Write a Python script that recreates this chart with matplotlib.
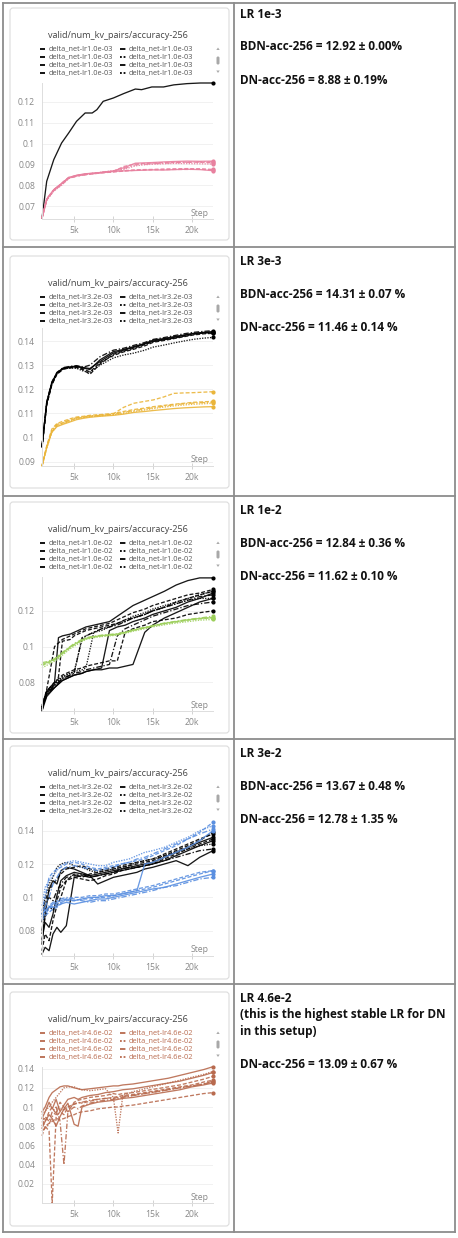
import matplotlib
matplotlib.use("Agg")
import matplotlib.pyplot as plt
from matplotlib.patches import FancyBboxPatch, Polygon
from matplotlib.ticker import FuncFormatter, FixedLocator

plt.rcParams['font.family'] = ['Open Sans', 'DejaVu Sans']

# ---------------- data ----------------
# panel 1: LR 1e-3
steps_1 = [900, 1500, 2400, 3400, 4300, 5300, 6400, 7300, 7900, 8700, 10000,
           11300, 12800, 13600, 14900, 16400, 17700, 19400, 21100, 22700]
black_1 = [
    [0.0642, 0.0819, 0.0923, 0.1003, 0.1051, 0.1107, 0.1147, 0.1147, 0.1163, 0.1203,
     0.1219, 0.1240, 0.1262, 0.1259, 0.1272, 0.1272, 0.1282, 0.1288, 0.1291, 0.1291],
]
pink_1 = [
    [0.0642, 0.0730, 0.0775, 0.0810, 0.0838, 0.0846, 0.0852, 0.0856, 0.0858, 0.0862,
     0.0866, 0.0890, 0.0902, 0.0904, 0.0906, 0.0909, 0.0910, 0.0911, 0.0910, 0.0908],
    [0.0645, 0.0735, 0.0780, 0.0805, 0.0835, 0.0843, 0.0850, 0.0855, 0.0857, 0.0861,
     0.0868, 0.0880, 0.0898, 0.0900, 0.0903, 0.0906, 0.0908, 0.0910, 0.0912, 0.0912],
    [0.0640, 0.0728, 0.0772, 0.0800, 0.0832, 0.0845, 0.0853, 0.0857, 0.0860, 0.0864,
     0.0870, 0.0876, 0.0893, 0.0897, 0.0901, 0.0903, 0.0905, 0.0904, 0.0903, 0.0902],
    [0.0643, 0.0732, 0.0778, 0.0808, 0.0836, 0.0848, 0.0855, 0.0858, 0.0859, 0.0863,
     0.0869, 0.0884, 0.0906, 0.0907, 0.0909, 0.0912, 0.0914, 0.0916, 0.0915, 0.0916],
    [0.0641, 0.0729, 0.0776, 0.0806, 0.0834, 0.0844, 0.0851, 0.0855, 0.0857, 0.0860,
     0.0864, 0.0868, 0.0872, 0.0873, 0.0874, 0.0875, 0.0876, 0.0876, 0.0877, 0.0873],
    [0.0644, 0.0733, 0.0779, 0.0809, 0.0837, 0.0847, 0.0854, 0.0857, 0.0858, 0.0862,
     0.0866, 0.0869, 0.0871, 0.0872, 0.0874, 0.0873, 0.0875, 0.0877, 0.0875, 0.0870],
    [0.0642, 0.0731, 0.0774, 0.0803, 0.0833, 0.0846, 0.0852, 0.0856, 0.0859, 0.0861,
     0.0865, 0.0870, 0.0874, 0.0875, 0.0876, 0.0878, 0.0879, 0.0880, 0.0879, 0.0876],
]

# panel 2: LR 3e-3
steps_2 = [900, 1500, 2150, 2800, 3600, 4500, 5300, 6200, 7000, 8300, 10000,
           11300, 12600, 14000, 15100, 16400, 17700, 19000, 20200, 21500, 22700]
black_2 = [
    [0.0962, 0.1142, 0.1225, 0.1266, 0.1287, 0.1291, 0.1294, 0.1288, 0.1282, 0.1322, 0.1356,
     0.1365, 0.1377, 0.1390, 0.1404, 0.1410, 0.1418, 0.1425, 0.1432, 0.1436, 0.1439],
    [0.0958, 0.1135, 0.1218, 0.1262, 0.1283, 0.1289, 0.1290, 0.1280, 0.1262, 0.1305, 0.1345,
     0.1358, 0.1370, 0.1385, 0.1398, 0.1405, 0.1412, 0.1420, 0.1428, 0.1433, 0.1435],
    [0.0965, 0.1148, 0.1230, 0.1270, 0.1290, 0.1295, 0.1298, 0.1292, 0.1300, 0.1335, 0.1362,
     0.1370, 0.1382, 0.1394, 0.1407, 0.1414, 0.1422, 0.1430, 0.1436, 0.1440, 0.1443],
    [0.0960, 0.1140, 0.1222, 0.1264, 0.1285, 0.1288, 0.1287, 0.1275, 0.1270, 0.1300, 0.1330,
     0.1342, 0.1350, 0.1362, 0.1375, 0.1383, 0.1392, 0.1400, 0.1407, 0.1412, 0.1415],
    [0.0963, 0.1145, 0.1228, 0.1268, 0.1288, 0.1293, 0.1296, 0.1290, 0.1286, 0.1315, 0.1350,
     0.1362, 0.1374, 0.1388, 0.1400, 0.1407, 0.1415, 0.1423, 0.1430, 0.1434, 0.1437],
    [0.0961, 0.1138, 0.1220, 0.1265, 0.1286, 0.1290, 0.1292, 0.1284, 0.1272, 0.1310, 0.1340,
     0.1355, 0.1366, 0.1380, 0.1395, 0.1402, 0.1410, 0.1418, 0.1425, 0.1430, 0.1432],
]
yellow_2 = [
    [0.0882, 0.0962, 0.1025, 0.1050, 0.1062, 0.1072, 0.1080, 0.1084, 0.1088, 0.1092, 0.1098,
     0.1125, 0.1142, 0.1150, 0.1156, 0.1168, 0.1183, 0.1185, 0.1186, 0.1188, 0.1190],
    [0.0882, 0.0960, 0.1030, 0.1055, 0.1060, 0.1075, 0.1082, 0.1086, 0.1090, 0.1092, 0.1096,
     0.1104, 0.1112, 0.1118, 0.1124, 0.1130, 0.1136, 0.1140, 0.1143, 0.1145, 0.1147],
    [0.0882, 0.0955, 0.1020, 0.1048, 0.1058, 0.1068, 0.1078, 0.1083, 0.1086, 0.1090, 0.1094,
     0.1100, 0.1108, 0.1114, 0.1120, 0.1126, 0.1131, 0.1135, 0.1138, 0.1140, 0.1142],
    [0.0882, 0.0958, 0.1022, 0.1045, 0.1055, 0.1065, 0.1074, 0.1080, 0.1084, 0.1088, 0.1092,
     0.1097, 0.1104, 0.1108, 0.1112, 0.1116, 0.1120, 0.1123, 0.1125, 0.1127, 0.1128],
    [0.0882, 0.0965, 0.1035, 0.1058, 0.1068, 0.1078, 0.1085, 0.1088, 0.1092, 0.1095, 0.1100,
     0.1108, 0.1116, 0.1122, 0.1128, 0.1133, 0.1138, 0.1142, 0.1146, 0.1148, 0.1150],
]

# panel 3: LR 1e-2
steps_3 = [900, 1500, 2500, 3000, 3500, 4500, 5000, 6000, 6500, 7500, 8500,
           9500, 10500, 11500, 12500, 14000, 15000, 16500, 18000, 19500, 21000, 22700]
black_3 = [
    [0.066, 0.075, 0.080, 0.105, 0.106, 0.107, 0.108, 0.110, 0.111, 0.112, 0.113,
     0.114, 0.117, 0.120, 0.123, 0.126, 0.128, 0.131, 0.1345, 0.137, 0.1385, 0.1385],
    [0.065, 0.074, 0.079, 0.083, 0.103, 0.104, 0.106, 0.108, 0.109, 0.110, 0.111,
     0.112, 0.113, 0.115, 0.116, 0.118, 0.120, 0.122, 0.125, 0.127, 0.129, 0.131],
    [0.064, 0.073, 0.078, 0.080, 0.082, 0.084, 0.085, 0.105, 0.106, 0.108, 0.110,
     0.111, 0.112, 0.114, 0.116, 0.118, 0.120, 0.122, 0.124, 0.126, 0.128, 0.129],
    [0.066, 0.074, 0.079, 0.081, 0.083, 0.085, 0.086, 0.087, 0.088, 0.108, 0.110,
     0.111, 0.113, 0.114, 0.116, 0.118, 0.120, 0.122, 0.124, 0.126, 0.127, 0.127],
    [0.065, 0.073, 0.077, 0.079, 0.081, 0.083, 0.084, 0.085, 0.086, 0.087, 0.088,
     0.109, 0.111, 0.112, 0.114, 0.116, 0.118, 0.120, 0.122, 0.125, 0.127, 0.130],
    [0.067, 0.075, 0.080, 0.082, 0.084, 0.086, 0.087, 0.088, 0.089, 0.090, 0.091,
     0.092, 0.092, 0.108, 0.110, 0.112, 0.114, 0.115, 0.116, 0.118, 0.119, 0.120],
    [0.064, 0.072, 0.077, 0.079, 0.081, 0.083, 0.084, 0.085, 0.086, 0.087, 0.087,
     0.088, 0.088, 0.089, 0.090, 0.108, 0.112, 0.116, 0.119, 0.122, 0.125, 0.127],
    [0.066, 0.076, 0.100, 0.102, 0.104, 0.106, 0.107, 0.109, 0.110, 0.111, 0.112,
     0.113, 0.115, 0.117, 0.119, 0.121, 0.123, 0.125, 0.127, 0.129, 0.130, 0.132],
    [0.065, 0.074, 0.078, 0.080, 0.082, 0.084, 0.085, 0.086, 0.087, 0.088, 0.089,
     0.090, 0.106, 0.110, 0.112, 0.115, 0.117, 0.119, 0.121, 0.123, 0.124, 0.125],
    [0.066, 0.075, 0.079, 0.081, 0.083, 0.085, 0.086, 0.104, 0.106, 0.108, 0.109,
     0.111, 0.113, 0.115, 0.117, 0.119, 0.121, 0.123, 0.125, 0.127, 0.129, 0.131],
]
green_3 = [
    [0.0894, 0.0905, 0.0925, 0.0940, 0.0960, 0.0995, 0.1010, 0.1035, 0.1045, 0.1055, 0.1060,
     0.1063, 0.1068, 0.1078, 0.1090, 0.1105, 0.1115, 0.1128, 0.1138, 0.1148, 0.1155, 0.1163],
    [0.0910, 0.0915, 0.0932, 0.0950, 0.0968, 0.1000, 0.1018, 0.1040, 0.1050, 0.1058, 0.1064,
     0.1068, 0.1072, 0.1082, 0.1094, 0.1108, 0.1118, 0.1132, 0.1142, 0.1152, 0.1160, 0.1170],
    [0.0880, 0.0895, 0.0918, 0.0932, 0.0952, 0.0988, 0.1002, 0.1028, 0.1040, 0.1050, 0.1056,
     0.1060, 0.1064, 0.1074, 0.1086, 0.1100, 0.1110, 0.1122, 0.1132, 0.1140, 0.1148, 0.1152],
    [0.0900, 0.0910, 0.0928, 0.0945, 0.0964, 0.0998, 0.1012, 0.1036, 0.1046, 0.1054, 0.1062,
     0.1066, 0.1070, 0.1080, 0.1092, 0.1106, 0.1116, 0.1130, 0.1140, 0.1150, 0.1158, 0.1162],
]

# panel 4: LR 3e-2
steps_4 = [900, 1300, 1800, 2300, 2800, 3300, 4000, 5000, 6000, 7000, 8000, 9000,
           10000, 11000, 12000, 13000, 14000, 15000, 16500, 18000, 19500, 21000, 22700]
black_4 = [
    [0.072, 0.090, 0.105, 0.110, 0.108, 0.116, 0.118, 0.117, 0.115, 0.113, 0.114, 0.115,
     0.116, 0.117, 0.118, 0.119, 0.120, 0.121, 0.124, 0.127, 0.130, 0.133, 0.136],
    [0.068, 0.078, 0.074, 0.086, 0.095, 0.100, 0.110, 0.114, 0.112, 0.114, 0.115, 0.116,
     0.117, 0.118, 0.119, 0.120, 0.121, 0.122, 0.125, 0.128, 0.131, 0.134, 0.139],
    [0.080, 0.095, 0.100, 0.098, 0.104, 0.108, 0.112, 0.113, 0.114, 0.112, 0.113, 0.114,
     0.115, 0.117, 0.118, 0.118, 0.119, 0.120, 0.122, 0.124, 0.126, 0.128, 0.129],
    [0.090, 0.100, 0.108, 0.112, 0.118, 0.120, 0.121, 0.119, 0.118, 0.116, 0.115, 0.116,
     0.117, 0.118, 0.119, 0.121, 0.122, 0.123, 0.125, 0.127, 0.129, 0.131, 0.132],
    [0.066, 0.070, 0.068, 0.078, 0.082, 0.079, 0.083, 0.112, 0.113, 0.112, 0.113, 0.114,
     0.115, 0.116, 0.117, 0.118, 0.119, 0.120, 0.122, 0.125, 0.128, 0.131, 0.134],
    [0.085, 0.098, 0.104, 0.108, 0.111, 0.114, 0.117, 0.118, 0.119, 0.117, 0.116, 0.117,
     0.118, 0.119, 0.120, 0.121, 0.122, 0.123, 0.126, 0.129, 0.132, 0.135, 0.138],
    [0.075, 0.085, 0.082, 0.090, 0.101, 0.110, 0.113, 0.115, 0.114, 0.113, 0.108, 0.110,
     0.112, 0.113, 0.114, 0.115, 0.117, 0.118, 0.120, 0.122, 0.119, 0.124, 0.128],
    [0.078, 0.088, 0.095, 0.092, 0.098, 0.106, 0.110, 0.112, 0.111, 0.110, 0.111, 0.113,
     0.114, 0.116, 0.117, 0.118, 0.119, 0.120, 0.123, 0.126, 0.129, 0.132, 0.135],
]
blue_4 = [
    [0.092, 0.100, 0.112, 0.115, 0.117, 0.118, 0.120, 0.121, 0.120, 0.118, 0.117, 0.118,
     0.119, 0.120, 0.121, 0.122, 0.123, 0.125, 0.128, 0.131, 0.135, 0.139, 0.145],
    [0.088, 0.094, 0.100, 0.108, 0.112, 0.116, 0.118, 0.119, 0.118, 0.117, 0.116, 0.117,
     0.118, 0.120, 0.121, 0.123, 0.124, 0.126, 0.129, 0.132, 0.135, 0.138, 0.141],
    [0.095, 0.106, 0.110, 0.113, 0.116, 0.119, 0.121, 0.122, 0.121, 0.120, 0.119, 0.119,
     0.121, 0.122, 0.123, 0.125, 0.127, 0.128, 0.130, 0.133, 0.136, 0.140, 0.143],
    [0.090, 0.092, 0.094, 0.096, 0.097, 0.098, 0.099, 0.098, 0.099, 0.100, 0.100, 0.101,
     0.101, 0.102, 0.103, 0.104, 0.120, 0.121, 0.124, 0.127, 0.130, 0.134, 0.140],
    [0.088, 0.090, 0.093, 0.095, 0.096, 0.097, 0.098, 0.098, 0.099, 0.099, 0.100, 0.100,
     0.101, 0.102, 0.103, 0.104, 0.105, 0.106, 0.108, 0.110, 0.112, 0.114, 0.116],
    [0.090, 0.092, 0.094, 0.094, 0.095, 0.096, 0.097, 0.096, 0.097, 0.098, 0.099, 0.099,
     0.100, 0.101, 0.102, 0.103, 0.104, 0.105, 0.106, 0.108, 0.110, 0.112, 0.114],
    [0.086, 0.089, 0.091, 0.093, 0.094, 0.096, 0.099, 0.100, 0.100, 0.101, 0.101, 0.102,
     0.102, 0.103, 0.104, 0.105, 0.106, 0.107, 0.109, 0.111, 0.113, 0.115, 0.116],
    [0.092, 0.094, 0.095, 0.097, 0.098, 0.099, 0.100, 0.099, 0.098, 0.097, 0.098, 0.098,
     0.099, 0.100, 0.101, 0.102, 0.103, 0.104, 0.106, 0.107, 0.109, 0.111, 0.112],
]

# panel 5: LR 4.6e-2 (DN only)
steps_5 = [900, 1300, 1800, 2200, 2700, 3200, 3700, 4200, 5000, 5500, 6000, 7000, 8000,
           9000, 10000, 10600, 11200, 12500, 14000, 15500, 17000, 18500, 20000, 21500, 22700]
brown_5 = [
    [0.088, 0.095, 0.105, 0.098, 0.108, 0.095, 0.102, 0.108, 0.110, 0.108, 0.110, 0.112, 0.113,
     0.115, 0.116, 0.117, 0.118, 0.119, 0.121, 0.123, 0.125, 0.127, 0.130, 0.133, 0.136],
    [0.085, 0.080, 0.075, 0.000, 0.090, 0.095, 0.092, 0.100, 0.103, 0.105, 0.104, 0.106, 0.108,
     0.109, 0.110, 0.111, 0.112, 0.113, 0.115, 0.117, 0.119, 0.121, 0.123, 0.126, 0.128],
    [0.080, 0.090, 0.085, 0.095, 0.100, 0.085, 0.040, 0.095, 0.100, 0.098, 0.101, 0.104, 0.106,
     0.107, 0.108, 0.109, 0.110, 0.112, 0.114, 0.116, 0.118, 0.120, 0.122, 0.124, 0.126],
    [0.092, 0.096, 0.100, 0.105, 0.110, 0.115, 0.120, 0.121, 0.121, 0.119, 0.118, 0.117, 0.118,
     0.119, 0.110, 0.073, 0.112, 0.116, 0.119, 0.122, 0.125, 0.128, 0.131, 0.134, 0.137],
    [0.095, 0.100, 0.110, 0.115, 0.118, 0.121, 0.122, 0.122, 0.120, 0.119, 0.118, 0.119, 0.120,
     0.121, 0.122, 0.122, 0.123, 0.124, 0.126, 0.128, 0.130, 0.133, 0.136, 0.139, 0.142],
    [0.070, 0.080, 0.083, 0.085, 0.088, 0.087, 0.088, 0.090, 0.092, 0.094, 0.095, 0.096, 0.098,
     0.099, 0.100, 0.100, 0.101, 0.102, 0.104, 0.106, 0.108, 0.110, 0.112, 0.114, 0.115],
    [0.078, 0.085, 0.092, 0.088, 0.080, 0.090, 0.098, 0.104, 0.082, 0.080, 0.100, 0.103, 0.105,
     0.106, 0.107, 0.108, 0.109, 0.110, 0.112, 0.114, 0.116, 0.118, 0.121, 0.123, 0.125],
    [0.090, 0.085, 0.095, 0.100, 0.092, 0.105, 0.100, 0.095, 0.105, 0.107, 0.108, 0.110, 0.111,
     0.112, 0.114, 0.113, 0.114, 0.115, 0.117, 0.119, 0.121, 0.123, 0.126, 0.129, 0.132],
    [0.075, 0.078, 0.082, 0.090, 0.095, 0.098, 0.097, 0.100, 0.103, 0.104, 0.105, 0.107, 0.108,
     0.109, 0.109, 0.110, 0.111, 0.112, 0.114, 0.116, 0.118, 0.120, 0.122, 0.124, 0.127],
]

run_names = ['delta_net-lr1.0e-03', 'delta_net-lr3.2e-03', 'delta_net-lr1.0e-02',
             'delta_net-lr3.2e-02', 'delta_net-lr4.6e-02']
cell_texts = [
    ['LR 1e-3', '', 'BDN-acc-256 = 12.92 ± 0.00%', '', 'DN-acc-256 = 8.88 ± 0.19%'],
    ['LR 3e-3', '', 'BDN-acc-256 = 14.31 ± 0.07 %', '', 'DN-acc-256 = 11.46 ± 0.14 %'],
    ['LR 1e-2', '', 'BDN-acc-256 = 12.84 ± 0.36 %', '', 'DN-acc-256 = 11.62 ± 0.10 %'],
    ['LR 3e-2', '', 'BDN-acc-256 = 13.67 ± 0.48 %', '', 'DN-acc-256 = 12.78 ± 1.35 %'],
    ['LR 4.6e-2', '(this is the highest stable LR for DN', 'in this setup)', '',
     'DN-acc-256 = 13.09 ± 0.67 %'],
]
y_limits = [(0.0638, 0.1291), (0.0882, 0.1454), (0.0639, 0.1390), (0.0648, 0.1464), (0.0, 0.1417)]
y_ticks = [
    [0.07, 0.08, 0.09, 0.10, 0.11, 0.12],
    [0.09, 0.10, 0.11, 0.12, 0.13, 0.14],
    [0.08, 0.10, 0.12],
    [0.08, 0.10, 0.12, 0.14],
    [0.02, 0.04, 0.06, 0.08, 0.10, 0.12, 0.14],
]
x_ticks = [5000, 10000, 15000, 20000]

# ---------------- layout (pixels) ----------------
W, H = 458, 1238
row_lines = [2.5, 247, 496, 739, 984, 1232]
card_tops = [8, 256, 502, 746, 992]
card_bots = [240, 488, 733, 979, 1226]
ax_tops = [83, 328, 577, 820, 1067]
ax_bots = [219, 466, 711, 956, 1203]
AX_L, AX_R = 42, 213
line_styles = ['-', (0, (3, 1.5)), (0, (4, 1.5, 1, 1.5)), (0, (1, 1)), '-', (0, (3, 1.5))]

C_PINK, C_YEL, C_GRN, C_BLU, C_BRN = '#e8819f', '#eab53a', '#9dcf5c', '#5a8fe0', '#b86a4e'

panels = [
    (steps_1, [(black_1, 'black'), (pink_1, C_PINK)], 'black'),
    (steps_2, [(black_2, 'black'), (yellow_2, C_YEL)], 'black'),
    (steps_3, [(black_3, 'black'), (green_3, C_GRN)], 'black'),
    (steps_4, [(black_4, 'black'), (blue_4, C_BLU)], 'black'),
    (steps_5, [(brown_5, C_BRN)], C_BRN),
]

fig = plt.figure(figsize=(W / 100, H / 100), dpi=100)
bg = fig.add_axes([0, 0, 1, 1])
bg.set_xlim(0, W)
bg.set_ylim(H, 0)
bg.axis('off')

# table grid
tcol = '#8c8c8c'
for y in row_lines:
    bg.plot([3, 455], [y, y], color=tcol, lw=1.3)
for x in [3, 234, 455]:
    bg.plot([x, x], [row_lines[0], row_lines[-1]], color=tcol, lw=1.3)

for i, (steps, groups, leg_col) in enumerate(panels):
    ct, cb = card_tops[i], card_bots[i]
    bg.add_patch(FancyBboxPatch((10, ct), 219, cb - ct,
                                boxstyle='round,pad=0,rounding_size=3',
                                fc='white', ec='#dcdcdc', lw=0.8))
    bg.text(118, ct + 27, 'valid/num_kv_pairs/accuracy-256', ha='center', va='center',
            fontsize=6.6, color='#444444')
    # legend
    for r in range(4):
        yy = ct + 40.5 + r * 8.1
        for c, (mx, tx) in enumerate([(39.5, 48.5), (120, 129)]):
            bg.plot([mx, mx + 5.5], [yy, yy], color=leg_col, lw=1.3,
                    ls=line_styles[(r * 2 + c) % 4], solid_capstyle='butt')
            bg.text(tx, yy, run_names[i], ha='left', va='center', fontsize=5.3,
                    color='#555555' if leg_col == 'black' else leg_col)
    # scrollbar
    bg.add_patch(Polygon([[216.3, ct + 42], [219.7, ct + 42], [218, ct + 39.5]],
                         closed=True, fc='#aaaaaa', ec='none'))
    bg.add_patch(FancyBboxPatch((216.5, ct + 48.5), 3, 8,
                                boxstyle='round,pad=0,rounding_size=1.4',
                                fc='#a8a8a8', ec='none'))
    bg.add_patch(Polygon([[216.3, ct + 62.5], [219.7, ct + 62.5], [218, ct + 65]],
                         closed=True, fc='#aaaaaa', ec='none'))

    # data axes
    at, ab = ax_tops[i], ax_bots[i]
    ax = fig.add_axes([AX_L / W, 1 - ab / H, (AX_R - AX_L) / W, (ab - at) / H])
    ax.set_facecolor('none')
    k = 0
    for runs, col in groups:
        for j, run in enumerate(runs):
            ax.plot(steps, run, color=col, lw=0.95, alpha=0.9,
                    ls=line_styles[(j + k) % len(line_styles)], clip_on=False)
            ax.plot(steps[-1], run[-1], 'o', ms=2, color=col, clip_on=False)
        k += 1
    ax.set_xlim(900, 22700)
    ax.set_ylim(*y_limits[i])
    ax.yaxis.set_major_locator(FixedLocator(y_ticks[i]))
    ax.yaxis.set_major_formatter(FuncFormatter(lambda v, p: f'{v:g}'))
    ax.xaxis.set_major_locator(FixedLocator(x_ticks))
    ax.xaxis.set_major_formatter(FuncFormatter(lambda v, p: f'{int(v / 1000)}k'))
    ax.grid(axis='y', color='#efefef', lw=0.6)
    ax.set_axisbelow(True)
    for s in ['top', 'right']:
        ax.spines[s].set_visible(False)
    for s in ['left', 'bottom']:
        ax.spines[s].set_color('#dddddd')
        ax.spines[s].set_linewidth(0.7)
    ax.tick_params(axis='y', length=0, pad=5, labelsize=6.2, labelcolor='#888888')
    ax.tick_params(axis='x', direction='inout', length=5, width=0.6, color='#cccccc',
                   pad=2.5, labelsize=6.2, labelcolor='#888888')
    ax.text(0.977, 6 / (ab - at), 'Step', transform=ax.transAxes, ha='right',
            va='center', fontsize=6.2, color='#888888')

    # right-hand cell text
    y0 = row_lines[i] + 11.5 if i == 0 else row_lines[i] + 14.5
    offs = [0, 16.3, 33, 49.5, 66] if i == 4 else [0, 16.5, 33, 49.5, 66]
    for line, dy in zip(cell_texts[i], offs):
        if line:
            bg.text(240, y0 + dy, line, ha='left', va='center', fontsize=8.5,
                    fontweight='bold', color='#111111')

fig.savefig('out.png', dpi=100, facecolor='white')
